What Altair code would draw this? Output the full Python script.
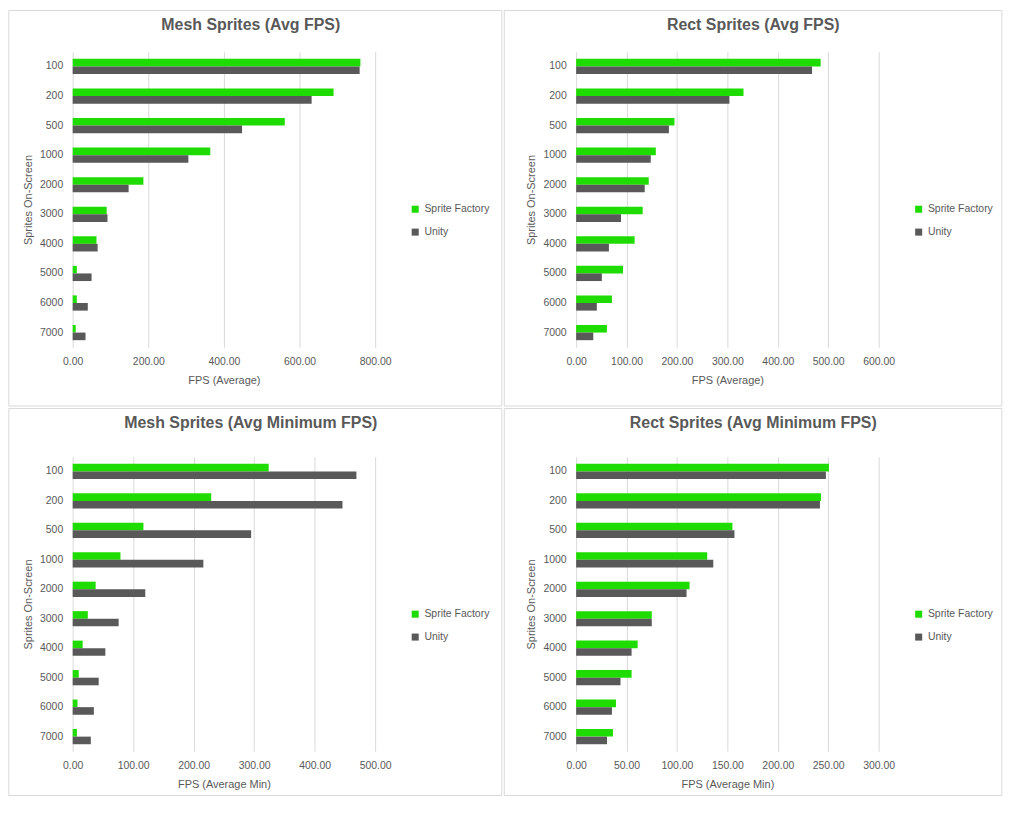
import altair as alt
import pandas as pd

sprites = ["100", "200", "500", "1000", "2000", "3000", "4000", "5000", "6000", "7000"]
series = ["Sprite Factory", "Unity"]

mesh_avg_sf = [761, 690, 561, 364, 187, 90, 63, 11, 11, 8]
mesh_avg_unity = [759, 632, 448, 306, 148, 92, 66, 50, 40, 34]
rect_avg_sf = [485, 332, 195, 158, 144, 132, 116, 93, 71, 61]
rect_avg_unity = [468, 304, 184, 148, 136, 89, 65, 51, 41, 34]
mesh_min_sf = [324, 229, 117, 79, 38, 25, 16.5, 10, 8, 7]
mesh_min_unity = [469, 446, 295, 216, 120, 76, 54, 43, 35, 30]
rect_min_sf = [250.7, 242.8, 155, 130, 112.5, 75, 61, 55, 39.5, 36.5]
rect_min_unity = [247.7, 241.8, 157, 136, 109.5, 75, 55, 44, 35.5, 30.6]

GREEN = "#1fdc00"
GRAY = "#595959"
TXT = "#595959"
FONT = "Liberation Sans"


def panel(title, xtitle, sf, un, xmax, step, h, frame_box, title_dx, title_off):
    df = pd.DataFrame({
        "Sprites": sprites * 2,
        "Series": [series[0]] * len(sprites) + [series[1]] * len(sprites),
        "FPS": sf + un,
    })
    bars = alt.Chart(df).mark_bar().encode(
        y=alt.Y("Sprites:N", sort=sprites,
                scale=alt.Scale(paddingInner=0.485, paddingOuter=0.24),
                axis=alt.Axis(title="Sprites On-Screen")),
        yOffset=alt.YOffset("Series:N", sort=series,
                            scale=alt.Scale(paddingInner=0, paddingOuter=0)),
        x=alt.X("FPS:Q", scale=alt.Scale(domain=[0, xmax], nice=False),
                axis=alt.Axis(values=list(range(0, xmax + 1, step)), format=".2f", title=xtitle,
                              labelFlush=False)),
        color=alt.Color("Series:N", sort=series,
                        scale=alt.Scale(domain=series, range=[GREEN, GRAY]),
                        legend=alt.Legend(orient="none", legendX=339, legendY=153, title=None,
                                          symbolType="square", symbolSize=50,
                                          symbolStrokeWidth=0,
                                          labelFont=FONT, labelFontSize=10.5, labelColor=TXT,
                                          rowPadding=12, labelOffset=4)),
    )
    x0, x1, y0, y1 = frame_box
    box = alt.Chart(alt.Data(values=[{"a": 1}])).mark_rect(
        fillOpacity=0, stroke="#d9d9d9", strokeWidth=1
    ).encode(x=alt.value(x0), x2=alt.value(x1), y=alt.value(y0), y2=alt.value(y1))
    return alt.layer(box, bars).properties(
        width=304, height=h,
        title=alt.TitleParams(title, fontSize=16, font=FONT, fontWeight="bold", color=TXT,
                              anchor="middle", dx=title_dx, offset=title_off),
    ).resolve_scale(color="independent")


p1 = panel("Mesh Sprites (Avg FPS)", "FPS (Average)", mesh_avg_sf, mesh_avg_unity, 800, 200, 297,
           (-64.2, 431.3, -41.5, 356), 27, -23)
p2 = panel("Rect Sprites (Avg FPS)", "FPS (Average)", rect_avg_sf, rect_avg_unity, 600, 100, 297,
           (-72.2, 427.8, -41.5, 356), 26, -23)
p3 = panel("Mesh Sprites (Avg Minimum FPS)", "FPS (Average  Min)", mesh_min_sf, mesh_min_unity, 500, 100, 296,
           (-64.2, 431.3, -48.5, 340.5), 27, -23)
p4 = panel("Rect Sprites (Avg Minimum FPS)", "FPS (Average  Min)", rect_min_sf, rect_min_unity, 300, 50, 296,
           (-72.2, 427.8, -48.5, 340.5), 26, -23)

chart = alt.ConcatChart(
    concat=[p1, p2, p3, p4], columns=2,
    spacing={"row": 110, "column": 202}, bounds="flush",
).resolve_scale(color="independent").properties(
    background="white", padding=0
).configure_view(stroke=None).configure_axisX(
    grid=True, gridColor="#d9d9d9", domain=False, ticks=False,
    labelFont=FONT, labelFontSize=10.5, labelColor=TXT, labelPadding=9,
    titleFont=FONT, titleFontSize=11, titleColor=TXT, titleFontWeight="normal", titlePadding=8,
).configure_axisY(
    grid=False, domain=False, ticks=False,
    labelFont=FONT, labelFontSize=10.5, labelColor=TXT, labelPadding=10,
    titleFont=FONT, titleFontSize=11, titleColor=TXT, titleFontWeight="normal", titlePadding=6,
)

chart.save("out.html", embed_options={"renderer": "svg", "actions": False})
